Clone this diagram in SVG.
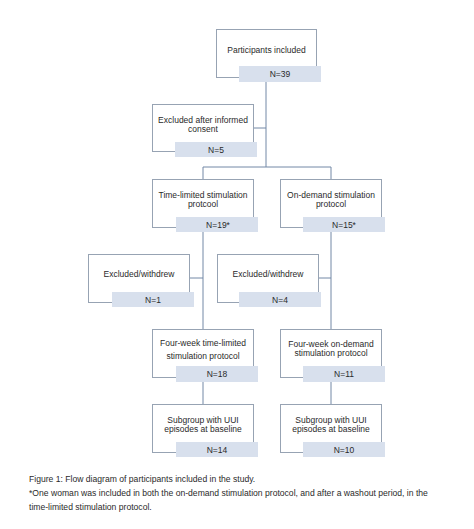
<svg xmlns="http://www.w3.org/2000/svg" width="474" height="529" viewBox="0 0 474 529">
<style>
.box{fill:#fff;stroke:#97a3b3;stroke-width:1}
.nb{fill:#d8e0ed;stroke:none}
.t{font-family:"Liberation Sans",Arial,sans-serif;font-size:8.5px;fill:#2a2a2a;text-anchor:middle}
.cap{font-family:"Liberation Sans",Arial,sans-serif;font-size:8.6px;fill:#2a2a2a}
.ln{fill:none;stroke:#7288a6;stroke-width:1}
</style>
<rect width="474" height="529" fill="#fff"/>
<g id="connectors">
<path class="ln" d="M266 82V167M254 128H266M203 167H331M203 167V179M331 167V179"/>
<path class="ln" d="M203 232V329M189 278H203M331 232V329M318 278H331"/>
<path class="ln" d="M203 382V404M331 382V404"/>
</g>
<g id="n-participants">
<rect class="box" x="216.5" y="29.5" width="100" height="48"/>
<rect class="nb" x="239" y="66" width="82" height="16"/>
<text class="t" x="266.5" y="53">Participants included</text>
<text class="t" x="280" y="77">N=39</text>
</g>
<g id="n-excluded-consent">
<rect class="box" x="152.5" y="104.5" width="101" height="47"/>
<rect class="nb" x="175" y="142" width="82" height="15"/>
<text class="t" x="203" y="123">Excluded after informed</text>
<text class="t" x="203" y="132">consent</text>
<text class="t" x="216" y="153">N=5</text>
</g>
<g id="n-time-limited">
<rect class="box" x="152.5" y="179.5" width="101" height="48"/>
<rect class="nb" x="176" y="217" width="82" height="15"/>
<text class="t" x="203" y="198">Time-limited stimulation</text>
<text class="t" x="203" y="207">protcool</text>
<text class="t" x="218" y="228">N=19*</text>
</g>
<g id="n-on-demand">
<rect class="box" x="280.5" y="179.5" width="101" height="48"/>
<rect class="nb" x="303" y="217" width="82" height="15"/>
<text class="t" x="331" y="198">On-demand stimulation</text>
<text class="t" x="331" y="207">protocol</text>
<text class="t" x="344" y="228">N=15*</text>
</g>
<g id="n-excluded-1">
<rect class="box" x="88.5" y="254.5" width="101" height="48"/>
<rect class="nb" x="112" y="292" width="82" height="15"/>
<text class="t" x="139" y="277">Excluded/withdrew</text>
<text class="t" x="153" y="303">N=1</text>
</g>
<g id="n-excluded-4">
<rect class="box" x="217.5" y="254.5" width="101" height="48"/>
<rect class="nb" x="239" y="292" width="82" height="15"/>
<text class="t" x="268" y="277">Excluded/withdrew</text>
<text class="t" x="280" y="303">N=4</text>
</g>
<g id="n-four-week-time">
<rect class="box" x="152.5" y="329.5" width="101" height="48"/>
<rect class="nb" x="176" y="366" width="82" height="16"/>
<text class="t" x="203" y="346">Four-week time-limited</text>
<text class="t" x="203" y="359">stimulation protocol</text>
<text class="t" x="217" y="377">N=18</text>
</g>
<g id="n-four-week-demand">
<rect class="box" x="280.5" y="329.5" width="101" height="48"/>
<rect class="nb" x="303" y="366" width="82" height="16"/>
<text class="t" x="331" y="347">Four-week on-demand</text>
<text class="t" x="331" y="356">stimulation protocol</text>
<text class="t" x="344" y="377">N=11</text>
</g>
<g id="n-subgroup-time">
<rect class="box" x="152.5" y="404.5" width="101" height="48"/>
<rect class="nb" x="176" y="442" width="82" height="15"/>
<text class="t" x="203" y="423">Subgroup with UUI</text>
<text class="t" x="203" y="432">episodes at baseline</text>
<text class="t" x="217" y="453">N=14</text>
</g>
<g id="n-subgroup-demand">
<rect class="box" x="280.5" y="404.5" width="101" height="48"/>
<rect class="nb" x="303" y="442" width="82" height="15"/>
<text class="t" x="331" y="423">Subgroup with UUI</text>
<text class="t" x="331" y="432">episodes at baseline</text>
<text class="t" x="344" y="453">N=10</text>
</g>
<g id="caption">
<text class="cap" x="29" y="482">Figure 1: Flow diagram of participants included in the study.</text>
<text class="cap" x="29" y="496">*One woman was included in both the on-demand stimulation protocol, and after a washout period, in the</text>
<text class="cap" x="29" y="510">time-limited stimulation protocol.</text>
</g>
</svg>
